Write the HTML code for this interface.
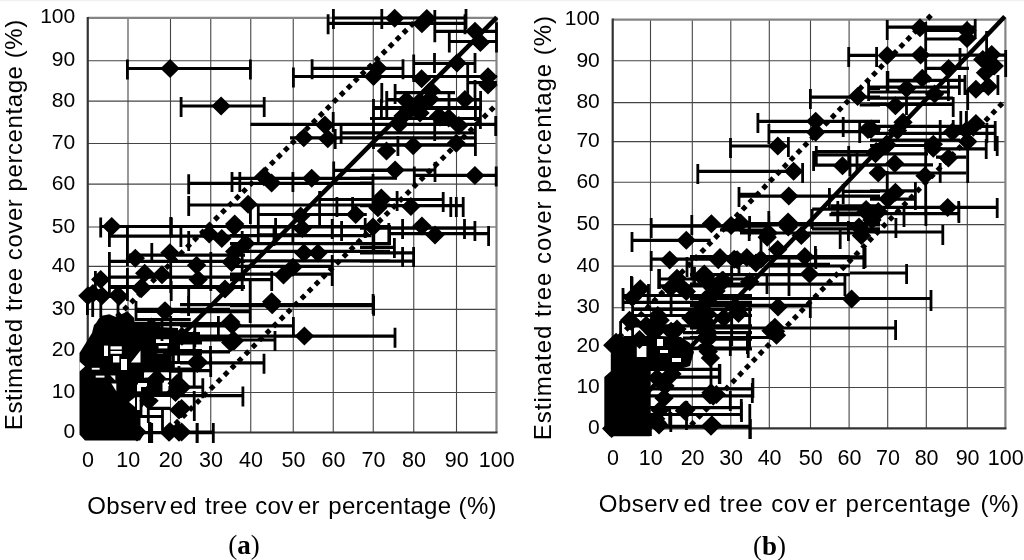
<!DOCTYPE html>
<html><head><meta charset="utf-8"><style>
html,body{margin:0;padding:0;background:#fff;}
svg{display:block;}
text{font-family:"Liberation Sans", Arial, sans-serif;fill:#000;}
</style></head><body>
<svg width="1024" height="560" viewBox="0 0 1024 560">
<line x1="0" y1="0.5" x2="1024" y2="0.5" stroke="#f0f0f0" stroke-width="1.5"/>
<path d="M128.00 17.90V432.50M170.50 17.90V432.50M210.75 17.90V432.50M250.75 17.90V432.50M293.25 17.90V432.50M333.25 17.90V432.50M373.25 17.90V432.50M413.75 17.90V432.50M456.50 17.90V432.50M87.75 392.50H496.50M87.75 350.60H496.50M87.75 309.40H496.50M87.75 266.40H496.50M87.75 227.00H496.50M87.75 184.10H496.50M87.75 143.50H496.50M87.75 101.10H496.50M87.75 60.70H496.50" stroke="#454545" stroke-width="1.1" fill="none"/>
<path d="M87.75 17.90H496.50V432.50" fill="none" stroke="#858585" stroke-width="2.2"/>
<path d="M87.75 16.90V432.50H497.50" fill="none" stroke="#333" stroke-width="2.2"/>
<path d="M650.50 19.60V428.40M692.30 19.60V428.40M730.80 19.60V428.40M769.30 19.60V428.40M810.50 19.60V428.40M849.10 19.60V428.40M887.70 19.60V428.40M926.30 19.60V428.40M967.30 19.60V428.40M612.70 387.50H1005.40M612.70 346.70H1005.40M612.70 307.70H1005.40M612.70 266.10H1005.40M612.70 224.60H1005.40M612.70 182.30H1005.40M612.70 141.60H1005.40M612.70 102.60H1005.40M612.70 60.80H1005.40" stroke="#454545" stroke-width="1.1" fill="none"/>
<path d="M612.70 19.60H1005.40V428.40" fill="none" stroke="#858585" stroke-width="2.2"/>
<path d="M612.70 18.60V428.40H1006.40" fill="none" stroke="#333" stroke-width="2.2"/>
<text x="88.05" y="467.3" text-anchor="middle" font-size="21.5">0</text>
<text x="75.2" y="438.00" text-anchor="end" font-size="21">0</text>
<text x="128.30" y="467.3" text-anchor="middle" font-size="21.5">10</text>
<text x="75.2" y="398.00" text-anchor="end" font-size="21">10</text>
<text x="170.80" y="467.3" text-anchor="middle" font-size="21.5">20</text>
<text x="75.2" y="356.10" text-anchor="end" font-size="21">20</text>
<text x="211.05" y="467.3" text-anchor="middle" font-size="21.5">30</text>
<text x="75.2" y="314.90" text-anchor="end" font-size="21">30</text>
<text x="251.05" y="467.3" text-anchor="middle" font-size="21.5">40</text>
<text x="75.2" y="271.90" text-anchor="end" font-size="21">40</text>
<text x="293.55" y="467.3" text-anchor="middle" font-size="21.5">50</text>
<text x="75.2" y="232.50" text-anchor="end" font-size="21">50</text>
<text x="333.55" y="467.3" text-anchor="middle" font-size="21.5">60</text>
<text x="75.2" y="189.60" text-anchor="end" font-size="21">60</text>
<text x="373.55" y="467.3" text-anchor="middle" font-size="21.5">70</text>
<text x="75.2" y="149.00" text-anchor="end" font-size="21">70</text>
<text x="414.05" y="467.3" text-anchor="middle" font-size="21.5">80</text>
<text x="75.2" y="106.60" text-anchor="end" font-size="21">80</text>
<text x="456.80" y="467.3" text-anchor="middle" font-size="21.5">90</text>
<text x="75.2" y="66.20" text-anchor="end" font-size="21">90</text>
<text x="496.80" y="467.3" text-anchor="middle" font-size="21.5">100</text>
<text x="75.2" y="23.40" text-anchor="end" font-size="21">100</text>
<text x="613.00" y="464.6" text-anchor="middle" font-size="21.5">0</text>
<text x="599.8" y="434.10" text-anchor="end" font-size="21">0</text>
<text x="650.80" y="464.6" text-anchor="middle" font-size="21.5">10</text>
<text x="599.8" y="393.20" text-anchor="end" font-size="21">10</text>
<text x="692.60" y="464.6" text-anchor="middle" font-size="21.5">20</text>
<text x="599.8" y="352.40" text-anchor="end" font-size="21">20</text>
<text x="731.10" y="464.6" text-anchor="middle" font-size="21.5">30</text>
<text x="599.8" y="313.40" text-anchor="end" font-size="21">30</text>
<text x="769.60" y="464.6" text-anchor="middle" font-size="21.5">40</text>
<text x="599.8" y="271.80" text-anchor="end" font-size="21">40</text>
<text x="810.80" y="464.6" text-anchor="middle" font-size="21.5">50</text>
<text x="599.8" y="230.30" text-anchor="end" font-size="21">50</text>
<text x="849.40" y="464.6" text-anchor="middle" font-size="21.5">60</text>
<text x="599.8" y="188.00" text-anchor="end" font-size="21">60</text>
<text x="888.00" y="464.6" text-anchor="middle" font-size="21.5">70</text>
<text x="599.8" y="147.30" text-anchor="end" font-size="21">70</text>
<text x="926.60" y="464.6" text-anchor="middle" font-size="21.5">80</text>
<text x="599.8" y="108.30" text-anchor="end" font-size="21">80</text>
<text x="967.60" y="464.6" text-anchor="middle" font-size="21.5">90</text>
<text x="599.8" y="66.50" text-anchor="end" font-size="21">90</text>
<text x="1005.70" y="464.6" text-anchor="middle" font-size="21.5">100</text>
<text x="599.8" y="25.30" text-anchor="end" font-size="21">100</text>
<line x1="87.75" y1="430.2" x2="496.8" y2="17.3" stroke="#000" stroke-width="4.5"/>
<line x1="612.7" y1="429" x2="1004.8" y2="16.5" stroke="#000" stroke-width="4.5"/>
<line x1="89.00" y1="344.33" x2="413.86" y2="22.71" stroke="#000" stroke-width="5.0" stroke-dasharray="5.0 4.829"/>
<line x1="168.33" y1="431.10" x2="493.87" y2="107.18" stroke="#000" stroke-width="5.0" stroke-dasharray="5.0 4.875"/>
<line x1="612.02" y1="344.26" x2="931.06" y2="15.33" stroke="#000" stroke-width="5.0" stroke-dasharray="5.0 4.853"/>
<line x1="690.94" y1="425.17" x2="1002.44" y2="103.20" stroke="#000" stroke-width="5.0" stroke-dasharray="5.0 4.844"/>
<text y="513.6" font-size="24" letter-spacing="0.3"><tspan x="87.3">Observ</tspan><tspan x="169.7">ed </tspan><tspan x="205.0">tree </tspan><tspan x="255.3">cov</tspan><tspan x="297.9">er </tspan><tspan x="328.3">percentage </tspan><tspan x="458.6">(%)</tspan></text>
<text y="512.3" font-size="24" letter-spacing="0.55"><tspan x="598.7">Observ</tspan><tspan x="683.5">ed </tspan><tspan x="719.6">tree </tspan><tspan x="771.2">cov</tspan><tspan x="814.9">er </tspan><tspan x="845.6">percentage </tspan><tspan x="980.5">(%)</tspan></text>
<text transform="translate(22 430.2) rotate(-90)" font-size="24" textLength="410.4" lengthAdjust="spacing">Estimated tree cover percentage (%)</text>
<text transform="translate(550.5 440.2) rotate(-90)" font-size="24" textLength="424.3" lengthAdjust="spacing">Estimated tree cover percentage (%)</text>
<text x="244.1" y="553.8" font-size="27" style="font-family:Liberation Serif,serif" text-anchor="middle">(<tspan font-weight="bold">a</tspan>)</text>
<text x="769.6" y="555" font-size="27" style="font-family:Liberation Serif,serif" text-anchor="middle">(<tspan font-weight="bold">b</tspan>)</text>
<path d="M79.5 434.5L79.5 353L92 333L94 325L96 323L100.5 316L109.4 314.3L115.3 316.8L124.2 312.9L127 311L134 317.8L135 324.6L141.9 324.6L150.7 320.7L158 327L178 328L178 397L150 397L145 403L140.5 410L140.5 427L145 432L140 440.5L85 440.5Z" fill="#000"/><path d="M104 345.6H108V356H104Z" fill="#fff"/><path d="M110.5 346.3H121.8V349.5H110.5Z" fill="#fff"/><path d="M110.5 351H121.8V353.8H110.5Z" fill="#fff"/><path d="M113 356H119.3V362.5H113Z" fill="#fff"/><path d="M121 359H127V370H121Z" fill="#fff"/><path d="M131 362.5L140.5 350.6V362.5Z" fill="#fff"/><path d="M79.5 361.5L85 366.5L79.5 371.5Z" fill="#fff"/><path d="M91.8 367.8H99.6V369.7H91.8Z" fill="#fff"/><path d="M95.7 375.6H104.5V377.6H95.7Z" fill="#fff"/><path d="M110.4 375.6H115.3V380.5Z" fill="#fff"/><path d="M111.4 383.5H116.3V391.3Z" fill="#fff"/><path d="M137 384.5H141V391.3H137Z" fill="#fff"/><path d="M144.8 372.7H152.7V377.6H144.8Z" fill="#fff"/><path d="M160.5 372.7H168.4V377.6H160.5Z" fill="#fff"/><path d="M162.5 382.5H168.4V391.3H162.5Z" fill="#fff"/><path d="M171.3 372.7H178V383.5H171.3Z" fill="#fff"/><path d="M129 402L135 397.2V407Z" fill="#fff"/><path d="M137 397.2H141.9V410H137Z" fill="#fff"/><path d="M149.7 407L154 397.2H166L170.3 407Z" fill="#fff"/><path d="M172.3 355H178V370.7H172.3Z" fill="#fff"/><path d="M156 338H169V343H156Z" fill="#fff"/><path d="M158.6 346H167.4V348.4H158.6Z" fill="#fff"/><path d="M157.4 351H163V353.7H157.4Z" fill="#fff"/><path d="M171.8 356H178V362.5H171.8Z" fill="#fff"/><path d="M161 372.4H169V378H161Z" fill="#fff"/><path d="M164 380.5H169V386H164Z" fill="#fff"/><path d="M144 372.4L154 372.4L144 378Z" fill="#fff"/><path d="M138 383H147V387H138Z" fill="#fff"/><path d="M127.4 68.5H250.4M181.1 106.0H264.2M333.4 18.0H466.0M328.1 23.3H465.0M434.8 31.3H496.5M449.3 41.5H496.5M312.1 68.3H403.0M293.4 76.5H497.0M413.7 63.5H475.0M467.7 82.6H497.0M395.0 92.7H455.0M386.7 99.5H480.6M250.5 124.4H495.7M341.0 132.9H475.4M290.0 137.8H475.4M373.5 108.3H480.4M373.5 107.7H480.4M370.0 118.5H480.4M370.0 145.1H475.4M188.7 183.3H373.0M231.6 178.3H373.0M188.7 205.0H390.0M100.7 226.5H390.0M333.7 170.4H390.0M319.6 199.5H390.0M258.3 214.5H366.8M258.3 234.9H300.0M360.0 170.0H435.0M414.3 175.4H496.2M360.0 178.2H397.0M360.0 183.0H373.0M360.0 199.5H443.2M360.0 205.7H463.2M109.4 236.2H245.0M129.0 255.1H245.0M109.4 261.4H245.0M109.4 277.1H245.0M109.4 286.5H245.0M230.0 227.0H390.0M230.0 235.7H371.5M230.0 243.6H390.0M230.0 251.4H390.0M230.0 260.9H390.0M230.0 266.4H332.2M230.0 274.2H332.2M230.0 279.7H271.7M230.0 305.7H373.0M360.0 228.1H474.9M389.6 233.6H488.6M360.0 247.3H394.4M360.0 252.8H413.6M360.0 261.1H413.6M180.0 304.7H373.6M180.0 311.7H250.2M180.0 325.9H293.4M180.0 336.1H395.0M180.0 340.0H275.0M180.0 362.8H264.0M170.0 370.7H210.7M170.0 387.2H202.8M170.0 395.6H242.9M170.0 432.0H213.8M110.0 287.4H245.0M135.0 309.4H230.0M100.0 323.6H230.0M150.0 337.7H230.0M150.0 351.9H230.0M150.0 369.2H200.0M147.5 408.3H170.5M136.0 416.5H162.0M136.0 432.6H213.8M135.0 311.4H210.0M135.0 319.6H190.7M135.0 324.6H210.0M135.0 333.6H200.0M170.0 353.8H202.0M170.0 362.5H202.0M175.0 350.6H202.0M170.0 343.0H202.0M170.0 337.5H202.0" stroke="#000" stroke-width="3.2" fill="none"/><path d="M127.4 59.5v20M250.4 59.5v20M181.1 97.0v20M264.2 97.0v20M333.4 9.0v20M328.1 14.3v20M381.8 9.0v20M434.8 10.0v20M434.8 22.3v20M466.0 9.0v20M465.0 14.3v20M449.3 32.5v20M496.5 22.3v20M496.5 32.5v20M312.1 59.3v20M293.4 67.5v20M403.0 59.3v20M413.7 54.5v20M413.7 62.0v20M475.0 53.0v20M434.5 53.0v20M467.7 63.0v20M467.7 75.0v20M475.0 80.0v20M395.1 84.0v20M480.6 91.0v20M386.7 91.0v20M449.0 91.0v20M381.8 83.0v20M386.8 91.0v20M341.1 124.0v20M335.2 129.0v20M333.2 112.0v20M373.5 99.0v20M373.5 115.0v20M373.5 129.0v20M381.4 99.0v20M386.8 99.0v20M475.4 101.0v20M475.4 124.0v20M475.4 136.0v20M480.4 109.0v20M495.7 116.0v20M434.7 121.0v20M397.9 136.0v20M188.7 174.3v20M188.7 196.0v20M232.0 172.0v20M239.8 172.0v20M100.7 217.5v20M171.4 217.5v20M292.9 172.0v20M373.0 174.0v20M333.7 161.4v20M319.6 191.0v20M319.6 205.0v20M336.9 197.0v20M352.6 197.0v20M258.3 205.5v20M258.3 225.0v20M250.4 204.0v20M275.6 218.0v20M341.6 221.0v20M365.2 218.0v20M435.0 162.0v20M414.3 166.4v20M496.2 166.4v20M397.1 191.0v20M373.0 187.0v20M443.2 192.0v20M450.8 197.0v20M456.3 197.0v20M463.2 197.0v20M109.4 227.0v20M109.4 252.0v20M109.4 268.0v20M109.4 278.0v20M127.4 227.0v20M127.4 246.0v20M127.4 268.0v20M127.4 281.0v20M151.8 243.0v20M170.7 217.0v20M170.7 257.0v20M170.7 273.0v20M180.9 227.0v20M188.7 231.0v20M188.7 288.0v20M210.8 252.0v20M210.8 271.0v20M242.2 231.0v20M242.2 251.0v20M242.2 271.0v20M332.2 219.0v20M332.2 255.0v20M332.2 266.0v20M373.1 234.0v20M373.1 294.0v20M271.7 271.0v20M258.3 221.0v20M274.0 226.0v20M292.9 223.0v20M341.6 221.0v20M388.8 223.0v20M389.6 225.0v20M402.6 219.0v20M402.6 247.0v20M394.4 238.0v20M413.6 247.0v20M464.5 219.0v20M474.9 221.0v20M488.6 226.0v20M373.8 234.0v20M373.6 295.7v20M250.2 281.0v20M250.2 296.0v20M250.2 303.0v20M293.4 316.9v20M395.0 327.8v20M275.0 331.0v20M264.0 353.8v20M210.7 357.0v20M194.2 368.0v20M202.8 378.2v20M242.9 386.6v20M194.2 391.0v20M197.3 423.0v20M213.3 423.0v20M150.0 422.0v20M171.2 281.0v20M188.5 296.0v20M218.4 316.0v20M194.8 327.0v20M210.5 346.0v20M179.0 366.0v20M141.0 395.0v20M148.3 403.0v20M162.5 410.0v20M194.3 401.0v20M149.4 423.0v20M151.7 423.0v20M197.0 423.0v20M136.0 301.0v20M188.6 296.0v20M170.7 316.0v20M162.0 321.0v20M194.3 331.0v20M178.6 341.0v20M194.0 336.0v20M173.4 351.0v20M181.0 369.0v20M87.4 295.0v20M92.7 297.0v20M100.8 297.0v20M118.0 295.0v20M95.4 271.0v20M109.4 267.0v20" stroke="#000" stroke-width="2.8" fill="none"/><path d="M170.1 59.0l9.7 9.5-9.7 9.5-9.7-9.5zM221.1 96.6l9.7 9.5-9.7 9.5-9.7-9.5zM394.7 8.7l9.7 9.5-9.7 9.5-9.7-9.5zM426.8 9.1l9.7 9.5-9.7 9.5-9.7-9.5zM421.9 14.2l9.7 9.5-9.7 9.5-9.7-9.5zM475.0 21.7l9.7 9.5-9.7 9.5-9.7-9.5zM480.4 32.9l9.7 9.5-9.7 9.5-9.7-9.5zM378.0 58.8l9.7 9.5-9.7 9.5-9.7-9.5zM373.5 67.0l9.7 9.5-9.7 9.5-9.7-9.5zM457.0 53.4l9.7 9.5-9.7 9.5-9.7-9.5zM421.6 69.2l9.7 9.5-9.7 9.5-9.7-9.5zM488.0 67.3l9.7 9.5-9.7 9.5-9.7-9.5zM488.0 75.6l9.7 9.5-9.7 9.5-9.7-9.5zM431.1 81.0l9.7 9.5-9.7 9.5-9.7-9.5zM406.4 91.1l9.7 9.5-9.7 9.5-9.7-9.5zM464.9 90.0l9.7 9.5-9.7 9.5-9.7-9.5zM324.9 115.5l9.7 9.5-9.7 9.5-9.7-9.5zM303.8 128.3l9.7 9.5-9.7 9.5-9.7-9.5zM327.8 129.3l9.7 9.5-9.7 9.5-9.7-9.5zM406.8 91.8l9.7 9.5-9.7 9.5-9.7-9.5zM420.8 93.1l9.7 9.5-9.7 9.5-9.7-9.5zM399.2 114.7l9.7 9.5-9.7 9.5-9.7-9.5zM438.6 107.1l9.7 9.5-9.7 9.5-9.7-9.5zM448.7 108.4l9.7 9.5-9.7 9.5-9.7-9.5zM458.9 116.0l9.7 9.5-9.7 9.5-9.7-9.5zM413.2 136.3l9.7 9.5-9.7 9.5-9.7-9.5zM386.5 141.4l9.7 9.5-9.7 9.5-9.7-9.5zM456.3 133.7l9.7 9.5-9.7 9.5-9.7-9.5zM111.7 217.0l9.7 9.5-9.7 9.5-9.7-9.5zM234.3 217.0l9.7 9.5-9.7 9.5-9.7-9.5zM263.8 167.2l9.7 9.5-9.7 9.5-9.7-9.5zM271.6 173.5l9.7 9.5-9.7 9.5-9.7-9.5zM311.7 168.8l9.7 9.5-9.7 9.5-9.7-9.5zM380.9 190.8l9.7 9.5-9.7 9.5-9.7-9.5zM248.1 194.7l9.7 9.5-9.7 9.5-9.7-9.5zM234.7 214.4l9.7 9.5-9.7 9.5-9.7-9.5zM300.7 206.5l9.7 9.5-9.7 9.5-9.7-9.5zM355.7 205.0l9.7 9.5-9.7 9.5-9.7-9.5zM302.3 219.1l9.7 9.5-9.7 9.5-9.7-9.5zM373.0 217.5l9.7 9.5-9.7 9.5-9.7-9.5zM395.1 160.5l9.7 9.5-9.7 9.5-9.7-9.5zM474.9 165.9l9.7 9.5-9.7 9.5-9.7-9.5zM381.3 188.6l9.7 9.5-9.7 9.5-9.7-9.5zM377.9 198.3l9.7 9.5-9.7 9.5-9.7-9.5zM410.9 196.9l9.7 9.5-9.7 9.5-9.7-9.5zM135.3 248.7l9.7 9.5-9.7 9.5-9.7-9.5zM169.9 243.2l9.7 9.5-9.7 9.5-9.7-9.5zM144.7 263.7l9.7 9.5-9.7 9.5-9.7-9.5zM162.0 265.2l9.7 9.5-9.7 9.5-9.7-9.5zM100.7 270.0l9.7 9.5-9.7 9.5-9.7-9.5zM196.6 255.8l9.7 9.5-9.7 9.5-9.7-9.5zM198.2 270.0l9.7 9.5-9.7 9.5-9.7-9.5zM209.2 224.4l9.7 9.5-9.7 9.5-9.7-9.5zM221.8 229.1l9.7 9.5-9.7 9.5-9.7-9.5zM232.8 251.1l9.7 9.5-9.7 9.5-9.7-9.5zM141.6 277.8l9.7 9.5-9.7 9.5-9.7-9.5zM118.0 285.7l9.7 9.5-9.7 9.5-9.7-9.5zM92.9 284.1l9.7 9.5-9.7 9.5-9.7-9.5zM225.0 279.4l9.7 9.5-9.7 9.5-9.7-9.5zM245.7 234.1l9.7 9.5-9.7 9.5-9.7-9.5zM234.7 241.9l9.7 9.5-9.7 9.5-9.7-9.5zM231.6 253.0l9.7 9.5-9.7 9.5-9.7-9.5zM303.9 243.5l9.7 9.5-9.7 9.5-9.7-9.5zM318.0 243.5l9.7 9.5-9.7 9.5-9.7-9.5zM292.9 257.7l9.7 9.5-9.7 9.5-9.7-9.5zM283.5 265.5l9.7 9.5-9.7 9.5-9.7-9.5zM271.7 292.3l9.7 9.5-9.7 9.5-9.7-9.5zM421.9 216.5l9.7 9.5-9.7 9.5-9.7-9.5zM435.0 225.5l9.7 9.5-9.7 9.5-9.7-9.5zM272.2 295.2l9.7 9.5-9.7 9.5-9.7-9.5zM232.1 315.6l9.7 9.5-9.7 9.5-9.7-9.5zM304.4 326.6l9.7 9.5-9.7 9.5-9.7-9.5zM234.4 331.3l9.7 9.5-9.7 9.5-9.7-9.5zM197.3 354.1l9.7 9.5-9.7 9.5-9.7-9.5zM181.6 377.7l9.7 9.5-9.7 9.5-9.7-9.5zM181.6 399.0l9.7 9.5-9.7 9.5-9.7-9.5zM181.6 422.5l9.7 9.5-9.7 9.5-9.7-9.5zM87.9 286.3l9.7 9.5-9.7 9.5-9.7-9.5zM102.0 286.3l9.7 9.5-9.7 9.5-9.7-9.5zM119.0 286.9l9.7 9.5-9.7 9.5-9.7-9.5zM141.2 279.3l9.7 9.5-9.7 9.5-9.7-9.5zM165.3 301.6l9.7 9.5-9.7 9.5-9.7-9.5zM164.6 301.5l9.7 9.5-9.7 9.5-9.7-9.5zM181.9 326.7l9.7 9.5-9.7 9.5-9.7-9.5zM197.6 351.8l9.7 9.5-9.7 9.5-9.7-9.5zM230.7 312.5l9.7 9.5-9.7 9.5-9.7-9.5zM230.7 333.0l9.7 9.5-9.7 9.5-9.7-9.5zM177.2 373.8l9.7 9.5-9.7 9.5-9.7-9.5zM170.0 422.0l9.7 9.5-9.7 9.5-9.7-9.5zM178.0 421.5l9.7 9.5-9.7 9.5-9.7-9.5zM137.0 422.5l9.7 9.5-9.7 9.5-9.7-9.5zM156.8 369.1l9.7 9.5-9.7 9.5-9.7-9.5zM149.3 383.5l9.7 9.5-9.7 9.5-9.7-9.5zM149.0 391.3l9.7 9.5-9.7 9.5-9.7-9.5zM178.0 374.8l9.7 9.5-9.7 9.5-9.7-9.5zM175.5 382.9l9.7 9.5-9.7 9.5-9.7-9.5zM179.0 400.5l9.7 9.5-9.7 9.5-9.7-9.5zM169.0 422.7l9.7 9.5-9.7 9.5-9.7-9.5zM179.0 422.7l9.7 9.5-9.7 9.5-9.7-9.5zM151.4 317.6l9.7 9.5-9.7 9.5-9.7-9.5zM165.0 302.3l9.7 9.5-9.7 9.5-9.7-9.5zM412.0 98.5l9.7 9.5-9.7 9.5-9.7-9.5zM420.0 103.5l9.7 9.5-9.7 9.5-9.7-9.5zM403.0 106.5l9.7 9.5-9.7 9.5-9.7-9.5zM430.0 89.5l9.7 9.5-9.7 9.5-9.7-9.5zM440.0 107.5l9.7 9.5-9.7 9.5-9.7-9.5z" fill="#000"/><path d="M604.3 430.4L604.3 377L610.8 371.3L610.8 353.6L616 349L616 340L624 336L660 336L681 337L690 343L694 352L690 366L680 369L650 369L650 436.3L609.6 436.3Z" fill="#000"/><path d="M636.8 346H646.4V357H636.8Z" fill="#fff"/><path d="M657 339H663V346H657Z" fill="#fff"/><path d="M672 358H681V362H672Z" fill="#fff"/><path d="M660 350H668V353H660Z" fill="#fff"/><path d="M848.7 55.4H876.6M887.2 27.2H975.2M925.7 30.3H965.0M925.7 39.0H970.0M887.6 55.1H1005.0M925.7 68.4H969.0M887.2 80.8H930.0M887.9 80.3H966.0M870.0 87.2H959.0M870.0 92.0H950.0M870.0 98.2H953.0M870.0 104.4H952.5M870.0 126.4H995.2M870.0 133.3H995.2M870.0 140.2H960.0M810.4 97.2H880.0M757.9 121.3H880.0M768.9 131.6H880.0M730.5 146.0H788.4M816.3 151.5H880.0M868.6 88.3H880.0M859.7 104.8H880.0M870.0 145.5H926.4M936.0 148.9H986.2M870.0 153.8H928.0M936.0 157.2H966.3M870.0 164.8H933.0M870.0 173.0H966.3M870.0 190.9H915.4M870.0 199.1H915.4M870.0 207.4H997.2M697.8 171.3H802.6M813.6 165.1H880.0M816.0 154.8H880.0M740.0 196.1H880.0M843.2 191.3H880.0M812.2 209.1H880.0M829.4 214.6H880.0M740.0 225.0H880.0M860.0 213.7H958.9M860.0 232.0H942.8M850.0 256.9H865.1M850.0 273.0H906.6M830.8 205.9H880.0M830.8 213.0H880.0M740.0 223.6H880.0M812.0 228.9H880.0M740.0 233.0H866.0M740.0 257.8H863.8M770.0 264.3H830.0M739.0 194.3H760.0M651.2 226.2H770.0M632.0 240.3H710.6M651.2 259.2H770.0M720.0 230.0H770.0M690.0 256.6H850.0M768.0 266.0H850.0M690.0 274.7H850.0M690.0 284.1H845.7M690.0 298.5H931.0M690.0 305.3H809.5M690.0 328.0H895.6M690.0 337.5H780.0M660.0 279.0H752.0M660.0 285.9H752.0M623.0 295.5H752.0M623.0 302.4H752.0M632.0 309.3H752.0M632.0 315.5H752.0M632.0 325.8H752.0M683.0 332.6H752.0M683.0 338.2H752.0M716.0 339.1H752.0M712.0 348.8H752.0M650.0 369.3H720.0M650.0 377.2H720.0M650.0 389.0H752.3M650.0 395.8H752.3M650.0 407.6H741.5M650.0 414.5H741.5M650.0 426.3H750.4M690.0 337.9H747.4M690.0 348.7H747.4" stroke="#000" stroke-width="3.2" fill="none"/><path d="M848.7 47.0v20M876.6 47.0v20M887.2 20.0v20M887.2 71.0v20M975.2 19.0v20M925.7 22.0v20M925.7 31.0v20M925.7 59.0v20M960.0 48.0v20M986.6 31.0v20M1005.7 50.0v20M1005.7 57.0v20M887.9 71.0v20M906.5 95.0v20M953.2 97.0v20M948.4 81.0v20M959.4 75.0v20M964.9 75.0v20M967.7 90.0v20M997.9 75.0v20M940.2 120.0v20M953.2 120.0v20M960.8 111.0v20M966.3 111.0v20M986.9 123.0v20M995.2 121.0v20M995.2 131.0v20M810.4 89.0v20M757.9 113.0v20M768.9 124.0v20M788.4 137.0v20M843.2 117.0v20M859.7 123.0v20M868.6 81.0v20M816.3 146.0v20M848.7 146.0v20M986.2 139.0v20M997.2 136.0v20M997.2 198.0v20M967.7 146.0v20M967.7 163.0v20M940.2 163.0v20M915.4 182.0v20M915.4 190.0v20M958.7 201.0v20M887.2 171.0v20M925.7 141.0v20M925.7 156.0v20M925.7 176.0v20M925.7 196.0v20M802.6 163.0v20M813.6 151.0v20M829.4 188.0v20M837.7 204.0v20M843.2 184.0v20M850.0 156.0v20M857.0 153.0v20M749.6 216.0v20M768.9 216.0v20M812.2 209.0v20M942.8 225.0v20M958.9 203.0v20M925.9 206.0v20M895.9 218.0v20M904.0 207.0v20M865.1 248.0v20M906.6 264.0v20M931.0 291.0v20M815.4 246.0v20M840.2 229.0v20M848.4 221.0v20M837.8 201.0v20M768.8 211.0v20M863.8 249.0v20M730.5 138.0v20M697.8 164.0v20M739.0 187.0v20M651.2 218.0v20M691.8 215.0v20M632.0 232.0v20M651.2 251.0v20M687.0 257.0v20M749.2 221.0v20M761.0 231.0v20M739.0 253.0v20M658.7 269.0v20M691.8 259.0v20M767.0 274.0v20M789.0 276.0v20M789.0 257.0v20M810.3 298.0v20M749.7 305.0v20M815.8 249.0v20M844.9 276.0v20M747.4 331.0v20M931.0 290.0v20M895.6 320.0v20M623.0 288.0v20M632.0 277.0v20M648.5 284.0v20M659.5 269.0v20M671.1 276.0v20M671.1 296.0v20M620.3 335.0v20M632.6 306.0v20M632.6 321.0v20M694.5 267.0v20M731.7 266.0v20M731.7 311.0v20M731.7 326.0v20M749.6 303.0v20M749.6 329.0v20M719.3 364.0v20M730.3 336.0v20M730.3 391.0v20M748.2 338.0v20M711.0 365.0v20M741.3 399.0v20M623.1 291.0v20M631.4 276.0v20M648.1 286.0v20M620.6 321.0v20M669.7 406.0v20M650.4 416.0v20M686.8 401.0v20M752.9 378.0v20M749.8 404.0v20M749.8 419.0v20M747.4 334.0v20M719.9 364.0v20M752.3 383.0v20M741.5 402.0v20M750.4 419.0v20M670.8 412.0v20M686.5 410.0v20" stroke="#000" stroke-width="2.8" fill="none"/><path d="M887.2 45.9l9.7 9.5-9.7 9.5-9.7-9.5zM920.0 18.3l9.7 9.5-9.7 9.5-9.7-9.5zM967.0 21.0l9.7 9.5-9.7 9.5-9.7-9.5zM967.0 29.0l9.7 9.5-9.7 9.5-9.7-9.5zM920.6 45.6l9.7 9.5-9.7 9.5-9.7-9.5zM948.6 58.9l9.7 9.5-9.7 9.5-9.7-9.5zM982.8 50.0l9.7 9.5-9.7 9.5-9.7-9.5zM991.7 44.9l9.7 9.5-9.7 9.5-9.7-9.5zM994.3 56.4l9.7 9.5-9.7 9.5-9.7-9.5zM922.3 68.8l9.7 9.5-9.7 9.5-9.7-9.5zM906.5 79.1l9.7 9.5-9.7 9.5-9.7-9.5zM934.6 84.6l9.7 9.5-9.7 9.5-9.7-9.5zM895.4 96.3l9.7 9.5-9.7 9.5-9.7-9.5zM975.9 79.8l9.7 9.5-9.7 9.5-9.7-9.5zM988.3 77.0l9.7 9.5-9.7 9.5-9.7-9.5zM985.5 63.3l9.7 9.5-9.7 9.5-9.7-9.5zM903.0 112.8l9.7 9.5-9.7 9.5-9.7-9.5zM897.5 121.0l9.7 9.5-9.7 9.5-9.7-9.5zM952.5 122.4l9.7 9.5-9.7 9.5-9.7-9.5zM966.3 121.0l9.7 9.5-9.7 9.5-9.7-9.5zM975.9 114.1l9.7 9.5-9.7 9.5-9.7-9.5zM933.3 134.8l9.7 9.5-9.7 9.5-9.7-9.5zM871.4 119.6l9.7 9.5-9.7 9.5-9.7-9.5zM886.5 134.8l9.7 9.5-9.7 9.5-9.7-9.5zM857.6 87.0l9.7 9.5-9.7 9.5-9.7-9.5zM815.7 111.8l9.7 9.5-9.7 9.5-9.7-9.5zM815.7 122.8l9.7 9.5-9.7 9.5-9.7-9.5zM867.9 120.0l9.7 9.5-9.7 9.5-9.7-9.5zM777.8 136.5l9.7 9.5-9.7 9.5-9.7-9.5zM876.2 142.0l9.7 9.5-9.7 9.5-9.7-9.5zM886.5 136.0l9.7 9.5-9.7 9.5-9.7-9.5zM875.5 144.3l9.7 9.5-9.7 9.5-9.7-9.5zM894.8 153.9l9.7 9.5-9.7 9.5-9.7-9.5zM878.3 163.5l9.7 9.5-9.7 9.5-9.7-9.5zM933.3 138.8l9.7 9.5-9.7 9.5-9.7-9.5zM948.4 148.4l9.7 9.5-9.7 9.5-9.7-9.5zM967.7 131.9l9.7 9.5-9.7 9.5-9.7-9.5zM925.0 166.3l9.7 9.5-9.7 9.5-9.7-9.5zM895.4 182.8l9.7 9.5-9.7 9.5-9.7-9.5zM887.9 189.6l9.7 9.5-9.7 9.5-9.7-9.5zM947.7 197.9l9.7 9.5-9.7 9.5-9.7-9.5zM878.3 202.0l9.7 9.5-9.7 9.5-9.7-9.5zM793.6 161.8l9.7 9.5-9.7 9.5-9.7-9.5zM842.5 156.3l9.7 9.5-9.7 9.5-9.7-9.5zM788.8 186.6l9.7 9.5-9.7 9.5-9.7-9.5zM788.1 212.5l9.7 9.5-9.7 9.5-9.7-9.5zM866.0 202.5l9.7 9.5-9.7 9.5-9.7-9.5zM872.0 210.5l9.7 9.5-9.7 9.5-9.7-9.5zM788.3 217.6l9.7 9.5-9.7 9.5-9.7-9.5zM768.3 223.5l9.7 9.5-9.7 9.5-9.7-9.5zM801.3 225.9l9.7 9.5-9.7 9.5-9.7-9.5zM777.7 240.0l9.7 9.5-9.7 9.5-9.7-9.5zM804.8 247.1l9.7 9.5-9.7 9.5-9.7-9.5zM866.1 199.9l9.7 9.5-9.7 9.5-9.7-9.5zM859.0 217.6l9.7 9.5-9.7 9.5-9.7-9.5zM861.4 225.9l9.7 9.5-9.7 9.5-9.7-9.5zM711.4 214.3l9.7 9.5-9.7 9.5-9.7-9.5zM731.1 215.9l9.7 9.5-9.7 9.5-9.7-9.5zM740.5 213.5l9.7 9.5-9.7 9.5-9.7-9.5zM686.3 230.8l9.7 9.5-9.7 9.5-9.7-9.5zM669.7 250.5l9.7 9.5-9.7 9.5-9.7-9.5zM720.0 248.1l9.7 9.5-9.7 9.5-9.7-9.5zM734.2 249.7l9.7 9.5-9.7 9.5-9.7-9.5zM746.8 248.1l9.7 9.5-9.7 9.5-9.7-9.5zM761.0 249.7l9.7 9.5-9.7 9.5-9.7-9.5zM704.3 264.5l9.7 9.5-9.7 9.5-9.7-9.5zM767.2 227.7l9.7 9.5-9.7 9.5-9.7-9.5zM718.3 250.2l9.7 9.5-9.7 9.5-9.7-9.5zM737.2 250.2l9.7 9.5-9.7 9.5-9.7-9.5zM756.0 253.4l9.7 9.5-9.7 9.5-9.7-9.5zM809.5 264.4l9.7 9.5-9.7 9.5-9.7-9.5zM702.6 265.9l9.7 9.5-9.7 9.5-9.7-9.5zM723.0 270.7l9.7 9.5-9.7 9.5-9.7-9.5zM749.7 272.2l9.7 9.5-9.7 9.5-9.7-9.5zM708.9 286.4l9.7 9.5-9.7 9.5-9.7-9.5zM737.2 299.0l9.7 9.5-9.7 9.5-9.7-9.5zM778.0 297.4l9.7 9.5-9.7 9.5-9.7-9.5zM774.9 317.8l9.7 9.5-9.7 9.5-9.7-9.5zM776.5 325.7l9.7 9.5-9.7 9.5-9.7-9.5zM705.7 321.0l9.7 9.5-9.7 9.5-9.7-9.5zM696.3 308.4l9.7 9.5-9.7 9.5-9.7-9.5zM851.6 289.6l9.7 9.5-9.7 9.5-9.7-9.5zM686.3 281.9l9.7 9.5-9.7 9.5-9.7-9.5zM722.0 270.9l9.7 9.5-9.7 9.5-9.7-9.5zM708.3 290.1l9.7 9.5-9.7 9.5-9.7-9.5zM660.1 310.8l9.7 9.5-9.7 9.5-9.7-9.5zM631.3 312.1l9.7 9.5-9.7 9.5-9.7-9.5zM671.1 321.8l9.7 9.5-9.7 9.5-9.7-9.5zM653.3 323.1l9.7 9.5-9.7 9.5-9.7-9.5zM639.5 330.0l9.7 9.5-9.7 9.5-9.7-9.5zM705.5 312.1l9.7 9.5-9.7 9.5-9.7-9.5zM708.3 323.1l9.7 9.5-9.7 9.5-9.7-9.5zM738.5 303.9l9.7 9.5-9.7 9.5-9.7-9.5zM616.1 332.8l9.7 9.5-9.7 9.5-9.7-9.5zM708.3 342.0l9.7 9.5-9.7 9.5-9.7-9.5zM711.0 383.3l9.7 9.5-9.7 9.5-9.7-9.5zM612.8 335.7l9.7 9.5-9.7 9.5-9.7-9.5zM640.3 279.3l9.7 9.5-9.7 9.5-9.7-9.5zM632.4 288.1l9.7 9.5-9.7 9.5-9.7-9.5zM659.0 309.8l9.7 9.5-9.7 9.5-9.7-9.5zM629.5 310.7l9.7 9.5-9.7 9.5-9.7-9.5zM646.2 315.7l9.7 9.5-9.7 9.5-9.7-9.5zM670.7 278.3l9.7 9.5-9.7 9.5-9.7-9.5zM677.0 268.8l9.7 9.5-9.7 9.5-9.7-9.5zM682.5 278.4l9.7 9.5-9.7 9.5-9.7-9.5zM703.2 268.8l9.7 9.5-9.7 9.5-9.7-9.5zM712.8 278.4l9.7 9.5-9.7 9.5-9.7-9.5zM723.8 271.5l9.7 9.5-9.7 9.5-9.7-9.5zM657.8 305.9l9.7 9.5-9.7 9.5-9.7-9.5zM659.1 318.3l9.7 9.5-9.7 9.5-9.7-9.5zM677.0 319.6l9.7 9.5-9.7 9.5-9.7-9.5zM690.8 308.6l9.7 9.5-9.7 9.5-9.7-9.5zM707.3 304.5l9.7 9.5-9.7 9.5-9.7-9.5zM723.8 308.6l9.7 9.5-9.7 9.5-9.7-9.5zM707.3 326.5l9.7 9.5-9.7 9.5-9.7-9.5zM611.7 418.9l9.7 9.5-9.7 9.5-9.7-9.5zM659.0 415.5l9.7 9.5-9.7 9.5-9.7-9.5zM684.7 401.5l9.7 9.5-9.7 9.5-9.7-9.5zM707.3 330.3l9.7 9.5-9.7 9.5-9.7-9.5zM710.4 348.5l9.7 9.5-9.7 9.5-9.7-9.5zM737.7 303.0l9.7 9.5-9.7 9.5-9.7-9.5zM771.0 321.2l9.7 9.5-9.7 9.5-9.7-9.5zM716.4 385.0l9.7 9.5-9.7 9.5-9.7-9.5zM686.0 400.2l9.7 9.5-9.7 9.5-9.7-9.5zM711.9 415.3l9.7 9.5-9.7 9.5-9.7-9.5zM655.7 409.3l9.7 9.5-9.7 9.5-9.7-9.5zM657.0 368.5l9.7 9.5-9.7 9.5-9.7-9.5zM665.0 376.5l9.7 9.5-9.7 9.5-9.7-9.5zM684.5 401.1l9.7 9.5-9.7 9.5-9.7-9.5zM710.0 385.4l9.7 9.5-9.7 9.5-9.7-9.5zM711.0 416.8l9.7 9.5-9.7 9.5-9.7-9.5zM657.0 412.9l9.7 9.5-9.7 9.5-9.7-9.5zM664.0 388.5l9.7 9.5-9.7 9.5-9.7-9.5zM660.0 400.5l9.7 9.5-9.7 9.5-9.7-9.5zM706.0 338.2l9.7 9.5-9.7 9.5-9.7-9.5zM672.0 364.5l9.7 9.5-9.7 9.5-9.7-9.5zM705.4 267.3l9.7 9.5-9.7 9.5-9.7-9.5zM716.0 281.5l9.7 9.5-9.7 9.5-9.7-9.5zM707.0 292.3l9.7 9.5-9.7 9.5-9.7-9.5zM700.0 301.2l9.7 9.5-9.7 9.5-9.7-9.5z" fill="#000"/>
</svg>
</body></html>
